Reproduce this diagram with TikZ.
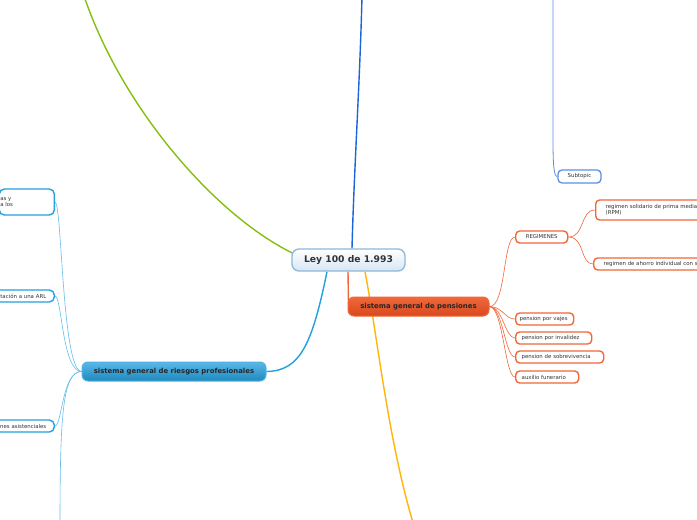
\documentclass[tikz,border=0pt]{standalone}
\usepackage{fontspec}
\setmainfont{DejaVu Sans}
\usetikzlibrary{calc,backgrounds}
\definecolor{cborder}{HTML}{8CB8DC}
\definecolor{penC}{HTML}{D9481E}
\definecolor{penB}{HTML}{F0683A}
\definecolor{rieC}{HTML}{23A0E0}
\definecolor{greenC}{HTML}{86BE14}
\definecolor{dblue}{HTML}{1A66D8}
\definecolor{lblue}{HTML}{5B8EE6}
\definecolor{yellowC}{HTML}{FFB50A}
\definecolor{txt}{HTML}{333333}
\begin{document}
\begin{tikzpicture}[x=1pt,y=-1pt,
  central/.style={draw=cborder,line width=1.3pt,rounded corners=7pt,top color=white,bottom color=cborder!35,
     minimum width=113pt,minimum height=22pt,inner sep=0pt,font=\fontsize{9.2}{10}\selectfont\bfseries,text=txt},
  mainpen/.style={draw=penB,line width=1pt,rounded corners=6pt,top color=penB,bottom color=penC,
     minimum width=141pt,minimum height=19pt,inner sep=0pt,font=\fontsize{6.9}{8}\selectfont\bfseries,text=black!85},
  mainrie/.style={draw=rieC!80,line width=1pt,rounded corners=6pt,top color=rieC!75,bottom color=rieC!85!black,
     minimum width=184pt,minimum height=19pt,inner sep=0pt,font=\fontsize{6.9}{8}\selectfont\bfseries,text=black!85},
  subpen/.style={draw=penB,line width=1.4pt,rounded corners=4pt,fill=white,minimum height=12pt,inner xsep=6pt,inner ysep=0pt,
     font=\fontsize{5.4}{6.4}\selectfont,text=txt,anchor=west},
  subrie/.style={draw=rieC,line width=1.4pt,rounded corners=5pt,fill=white,minimum height=12pt,inner ysep=0pt,
     font=\fontsize{5.4}{6.4}\selectfont,text=txt,anchor=east,align=right,text width=80pt,inner xsep=8pt},
  subtop/.style={draw=lblue,line width=1.3pt,rounded corners=4pt,fill=white,minimum width=43pt,minimum height=13pt,inner sep=0pt,
     font=\fontsize{5.4}{6.4}\selectfont,text=txt},
  thickline/.style={line width=1.4pt},
  penline/.style={draw=penB,line width=0.6pt},
  rieline/.style={draw=rieC!70,line width=0.6pt}]
\useasboundingbox (0,0) rectangle (697,520);
\clip (0,0) rectangle (697,520);
% off-screen ends
\coordinate (g) at (84,-4);
\coordinate (db) at (362,-4);
\coordinate (ye) at (414,526);
\coordinate (st) at (553,-4);
\coordinate (l4) at (60,530);
% nodes
\node[central] (c) at (348.5,260) {Ley 100 de 1.993};
\node[mainpen] (pen) at (418.5,306.5) {sistema general de pensiones};
\node[mainrie] (rie) at (174,371.5) {sistema general de riesgos profesionales};
\node[subtop] (sub) at (579.5,176.5) {Subtopic};
\node[subpen,minimum width=52pt] (reg) at (515,237) {REGIMENES};
\node[subpen,minimum height=20pt,align=left,inner xsep=10pt] (rpm) at (595,210) {regimen solidario de prima media con\\(RPM)};
\node[subpen,align=left,inner xsep=10pt] (rai) at (593,264) {regimen de ahorro individual con solidaridad};
\node[subpen,text width=50pt,inner xsep=4pt,align=left] (pv) at (515,319) {pension por vajes};
\node[subpen,text width=64pt,align=left] (pi) at (515,338) {pension por invalidez};
\node[subpen,text width=76pt,align=left] (ps) at (515,357) {pension de sobrevivencia};
\node[subpen,text width=51pt,align=left] (af) at (515,377) {auxilio funerario};
\node[subrie,minimum height=26pt,align=left,text width=53pt,inner xsep=1pt] (l1) at (55,202) {as y\\a los};
\node[subrie] (l2) at (55,296) {tación a una ARL};
\node[subrie] (l3) at (55,426) {nes asistenciales};
\begin{scope}[on background layer]
\fill[white] (0,0) rectangle (697,520);
% main connectors
\draw[thickline,greenC] ($(c.west)+(1,-7)$) .. controls (215,215) and (122,108) .. (g);
\draw[thickline,dblue] ($(c.north)+(3.5,0)$) .. controls (354,170) and (360,80) .. (db);
\draw[thickline,yellowC] ($(c.south)+(16.5,0)$) .. controls (378,340) and (388,440) .. (ye);
\draw[thickline,penB] ($(c.south)+(-0.5,0)$) -- ($(pen.west)+(1,-3)$);
\draw[thickline,rieC] ($(c.south)+(-21.5,0)$) .. controls (312,345) and (300,371) .. (rie.east);
\draw[lblue,line width=0.8pt] (sub.west) .. controls (554,177) and (553,165) .. (553,140) -- (st);
% pension children
\draw[penline] (pen.east) .. controls (506,307) and (503,237) .. (reg.west);
\foreach \n in {pv,pi,ps,af}{
  \draw[penline] (pen.east) .. controls (503,307) and (505,0 |- \n.west) .. (\n.west);
}
\draw[penline] (reg.east) .. controls (585,237) and (580,210) .. (rpm.west);
\draw[penline] (reg.east) .. controls (585,237) and (580,264) .. (rai.west);
% riesgos children
\foreach \n in {l1,l2,l3}{
  \draw[rieline] (rie.west) .. controls (62,371) and (62,0 |- \n.east) .. (\n.east);
}
\draw[rieline] (rie.west) .. controls (62,371) and (60,420) .. (l4);
\end{scope}
\end{tikzpicture}
\end{document}
